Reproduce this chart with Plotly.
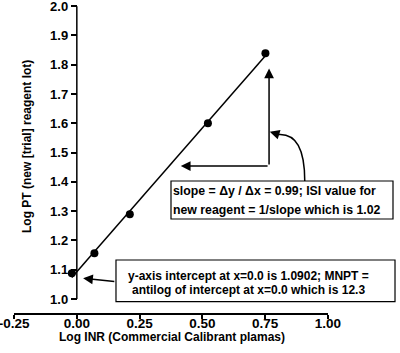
import numpy as np
import plotly.graph_objects as go

# Data
log_inr = [-0.02, 0.07, 0.211, 0.522, 0.751]
log_pt = [1.088, 1.156, 1.289, 1.600, 1.839]
x_ticks = [-0.25, 0.00, 0.25, 0.50, 0.75, 1.00]
y_ticks = [1.0, 1.1, 1.2, 1.3, 1.4, 1.5, 1.6, 1.7, 1.8, 1.9, 2.0]

slope, intercept = np.polyfit(log_inr, log_pt, 1)
fit_x = [min(log_inr), max(log_inr)]
fit_y = [slope * v + intercept for v in fit_x]

FONT = "Liberation Sans, Arial, sans-serif"

fig = go.Figure()
fig.add_trace(go.Scatter(x=fit_x, y=fit_y, mode="lines",
                         line=dict(color="black", width=1.5), hoverinfo="skip"))
fig.add_trace(go.Scatter(x=log_inr, y=log_pt, mode="markers",
                         marker=dict(color="black", size=8)))

W, H = 400, 353
ml, mr, mt, mb = 14, 72, 6, 40

fig.update_layout(
    width=W, height=H,
    margin=dict(l=ml, r=mr, t=mt, b=mb, autoexpand=False),
    paper_bgcolor="white", plot_bgcolor="white",
    showlegend=False,
    xaxis=dict(range=[-0.2502, 1.0002], tickvals=x_ticks,
               ticktext=[f"{v:.2f}" for v in x_ticks],
               showline=True, linecolor="black", linewidth=1.5,
               ticks="outside", ticklen=4, tickwidth=1.5, tickcolor="black",
               showgrid=False, zeroline=False, automargin=False,
               ticklabeloverflow="allow", ticklabelstandoff=-7,
               tickfont=dict(family=FONT, size=13.5, color="black", weight="bold")),
    yaxis=dict(range=[0.9522, 2.0005], tickvals=y_ticks,
               ticktext=[f"{v:.1f}" for v in y_ticks],
               anchor="free", position=0.2, automargin=False,
               ticklabeloverflow="allow",
               showline=False, ticks="outside", ticklen=6, tickwidth=1.5,
               tickcolor="black", showgrid=False, zeroline=False,
               tickfont=dict(family=FONT, size=13, color="black", weight="bold")),
)

# y-axis line from 1.0 to 2.0 at x = 0
fig.add_shape(type="line", xref="x", yref="y", x0=0, x1=0, y0=1.0, y1=2.0,
              line=dict(color="black", width=1.5))

# Text boxes
fig.add_shape(type="rect", xref="paper", yref="paper", x0=0.5, x1=1.207,
              y0=0.3062, y1=0.43, line=dict(color="black", width=1.2),
              fillcolor="white")
fig.add_shape(type="rect", xref="paper", yref="paper", x0=0.3248, x1=1.2134,
              y0=0.0368, y1=0.1726, line=dict(color="black", width=1.2),
              fillcolor="white")

tf = dict(family=FONT, size=12.3, color="black")
tf2 = dict(family=FONT, size=12, color="black")
ann = [
    dict(x=0.4995, y=0.3958, text="<b>slope = Δy / Δx = 0.99; ISI value for</b>",
         xanchor="left", font=tf),
    dict(x=0.4995, y=0.3355, text="<b>new reagent = 1/slope which is 1.02</b>",
         xanchor="left", font=tf),
    dict(x=0.7468, y=0.1189, text="<b>y-axis intercept at x=0.0 is 1.0902; MNPT =</b>",
         xanchor="center", font=tf2),
    dict(x=0.7468, y=0.0749, text="<b>antilog of intercept at x=0.0 which is 12.3</b>",
         xanchor="center", font=tf2),
    dict(x=0.0414, y=0.544, text="<b>Log PT (new [trial] reagent lot)</b>",
         textangle=-90, xanchor="center", font=dict(family=FONT, size=12, color="black")),
    dict(x=0.5016, y=-0.0782, text="<b>Log INR (Commercial Calibrant plamas)</b>",
         xanchor="center", font=dict(family=FONT, size=12, color="black")),
]
for a in ann:
    a.update(xref="paper", yref="paper", showarrow=False, yanchor="middle")
    fig.add_annotation(**a)

# Arrows
arrow_style = dict(showarrow=True, arrowhead=2, arrowsize=1.3, arrowwidth=1.5,
                   arrowcolor="black", text="", standoff=0)
fig.add_annotation(x=0.7655, y=1.7874, ax=0.7655, ay=1.4539, xref="x", yref="y",
                   axref="x", ayref="y", **arrow_style)
fig.add_annotation(x=0.414, y=1.4539, ax=0.7655, ay=1.4539, xref="x", yref="y",
                   axref="x", ayref="y", **arrow_style)
fig.add_annotation(x=0.0251, y=1.0706, ax=0.1553, ay=1.059, xref="x", yref="y",
                   axref="x", ayref="y", **arrow_style)
# curved arrow
fig.add_shape(type="path", xref="x", yref="y",
              path="M 0.9076,1.4027 Q 0.9076,1.5666 0.8041,1.5614",
              line=dict(color="black", width=1.5))
fig.add_annotation(x=0.7683, y=1.571, ax=10, ay=3, xref="x", yref="y",
                   **arrow_style)

fig.write_html("out.html", config={"displayModeBar": False},
               post_script="document.body.style.margin='0';document.body.style.overflow='hidden';")
